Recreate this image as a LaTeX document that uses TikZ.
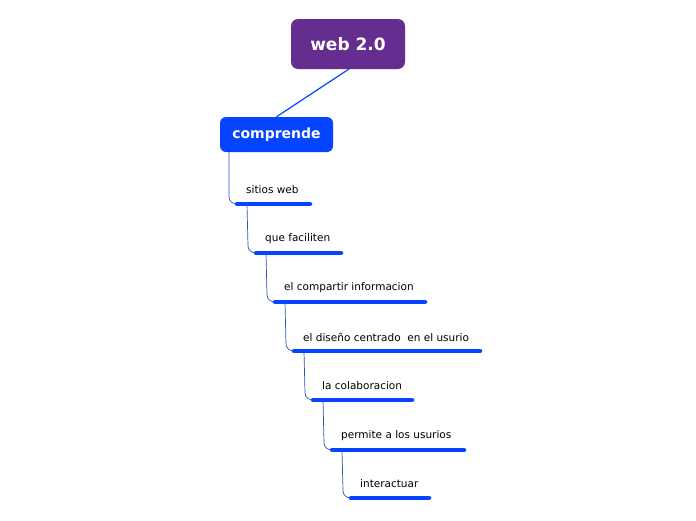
\documentclass[tikz,border=0pt]{standalone}
\usepackage{fontspec}
\usetikzlibrary{calc}
\setmainfont{DejaVu Sans}
\definecolor{pur}{HTML}{662D91}
\definecolor{blu}{HTML}{0645FF}
\definecolor{lnk}{HTML}{3050C0}
\begin{document}
\begin{tikzpicture}[x=1pt,y=-1pt,
  bar/.style={blu,line width=4.5pt,line cap=round},
  lbl/.style={anchor=west,inner sep=0pt,font=\fontsize{10.5}{12}\selectfont},
  conn/.style={lnk,line width=0.7pt}]
\useasboundingbox (0,0) rectangle (696,520);
\node[fill=pur,rounded corners=7pt,minimum width=114pt,minimum height=50pt,text=white,font=\bfseries\fontsize{17}{20}\selectfont] (web) at (348,44) {web 2.0};
\node[fill=blu,rounded corners=6pt,minimum width=113pt,minimum height=35pt,text=white,font=\bfseries\fontsize{14}{17}\selectfont] (comp) at (276.5,134.5) {comprende};
\draw[blu,line width=1.2pt] (349,69) -- (comp.north);
\foreach \n/\t/\x/\y/\e in {1/sitios web/237/204/310,
 2/que faciliten/256/253/341,
 3/el compartir informacion/275/302/425,
 4/el diseño centrado\ \ en el usurio/294/351/480,
 5/la colaboracion/313/400/412,
 6/permite a los usurios/332/450/464,
 7/interactuar/351/498/429}{
  \coordinate (s\n) at (\x,\y);
  \coordinate (e\n) at (\e,\y);
  \draw[bar] (s\n) -- (e\n);
  \node[lbl] (t\n) at (\x+9,\y-14) {\t};
}
\coordinate (p0) at (229,152);
\draw[conn] (p0) -- (229,197) to[out=-90,in=180] (s1);
\foreach \a/\b in {1/2,2/3,3/4,4/5,5/6,6/7}{
  \draw[conn] ($(s\a)+(10,0)$) -- ($(s\b)+(-8,-7)$) to[out=-90,in=180] (s\b);
}
\end{tikzpicture}
\end{document}
